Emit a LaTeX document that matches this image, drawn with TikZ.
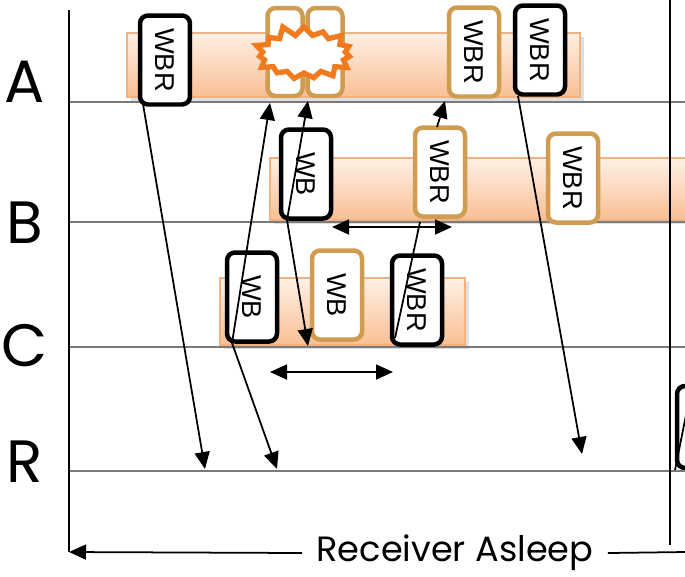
\documentclass[tikz,border=0pt]{standalone}
\usepackage{fontspec}
\setmainfont{Liberation Sans}
\newfontfamily\lanefont{Poppins}
\usepackage{tikz}
\usetikzlibrary{positioning, arrows.meta, shapes.symbols, shadows}

\definecolor{barhi}{HTML}{FEF0E5}
\definecolor{barlo}{HTML}{F9BF94}
\definecolor{baredge}{HTML}{EDB384}
\definecolor{boxtan}{HTML}{CF9C52}
\definecolor{burst}{HTML}{F07A1E}
\definecolor{lanegray}{HTML}{7A7A7A}

\begin{document}
\begin{tikzpicture}[
    x=0.02cm, y=-0.02cm,
    every node/.style={font=\small,align=center},
    arrow/.style={-{Triangle[length=0.34cm, width=0.3cm]}, line width=1pt},
    both/.style={{Triangle[length=0.34cm, width=0.3cm]}-{Triangle[length=0.34cm, width=0.3cm]}, line width=1pt},
    lane/.style={lanegray, line width=1.3pt},
    bar/.style={draw=baredge, line width=0.6pt, top color=barhi, bottom color=barlo,
        drop shadow={shadow xshift=2pt, shadow yshift=-2pt, opacity=0.25}},
    pkt/.style={rectangle, rounded corners=0.16cm, fill=white, line width=0.09cm, rotate=-90,
        inner sep=0pt, minimum width=1.78cm, minimum height=1.0cm,
        font=\fontsize{15.5}{16}\selectfont},
    sent/.style={pkt, draw=black},
    heard/.style={pkt, draw=boxtan},
    clashmark/.style={starburst, draw=burst, fill=white, line width=3pt, minimum width=2.1cm,
        minimum height=1.2cm, starburst points=15, starburst point height=0.22cm, random starburst=11},
    lbl/.style={font=\lanefont\fontsize{34}{34}\selectfont}
]
    \clip (0,0) rectangle (685,576);

    % lanes
    \foreach \name/\y/\ly in {A/102/82, B/222/223, C/347/346, R/471/462} {
        \draw[lane] (69,\y) -- (685,\y);
        \node[lbl] (lab\name) at (25,\ly) {\name};
    }
    \draw[line width=1.2pt] (69,10) -- (69,552);

    % busy periods
    \draw[bar] (127,33) rectangle (580,97);
    \draw[bar] (270,158) rectangle (700,220);
    \draw[bar] (220,278) rectangle (465,345);

    \draw[line width=1.2pt] (670,0) -- (670,545);

    % row A
    \node[sent] (wbrA1) at (165,60) {WBR};
    \node[heard, minimum width=1.76cm, minimum height=0.7cm] (pairL) at (285,52) {};
    \node[heard, minimum width=1.76cm, minimum height=0.7cm] (pairR) at (325,52) {};
    \node[clashmark] (clash) at (304,54) {};
    \node[heard] (wbrA2) at (474,52) {WBR};
    \node[sent] (wbrA3) at (540,50) {WBR};

    % row B
    \node[sent] (wbB1) at (306,174) {WB};
    \node[heard] (wbrB1) at (440,172) {WBR};
    \node[heard] (wbrB2) at (573,178) {WBR};

    % row C
    \node[sent] (wbC1) at (252,297) {WB};
    \node[heard] (wbC2) at (337,295) {WB};
    \node[sent] (wbrC1) at (417,300) {WBR};

    % next one, cut off at the edge
    \node[sent, minimum width=1.64cm] (wbrR1) at (702,427) {};

    % ends of the messages
    \coordinate (s1) at (143,104);
    \coordinate (t1) at (205,469);
    \coordinate (s2) at (232,343);
    \coordinate (t2) at (270,103);
    \coordinate (t3) at (277,469);
    \coordinate (s4) at (287,220);
    \coordinate (t4) at (308,101);
    \coordinate (t5) at (308,346);
    \coordinate (s6) at (395,338);
    \coordinate (t6) at (420,222);
    \coordinate (s7) at (437,127);
    \coordinate (t7) at (445,101);
    \coordinate (s8) at (518,96);
    \coordinate (t8) at (582,454);
    \coordinate (s9) at (675,470);
    \coordinate (t9) at (690,395);

    \draw[arrow] (s1) -- (t1);
    \draw[arrow] (s2) -- (t2);
    \draw[arrow] (s2) -- (t3);
    \draw[arrow] (s4) -- (t4);
    \draw[arrow] (s4) -- (t5);
    \draw[line width=1pt] (s6) -- (t6);
    \draw[arrow] (s7) -- (t7);
    \draw[arrow] (s8) -- (t8);
    \draw[line width=1pt] (s9) -- (t9);

    % waiting spans
    \coordinate (waitB1) at (332,227);
    \coordinate (waitB2) at (452,227);
    \coordinate (waitC1) at (270,372);
    \coordinate (waitC2) at (393,372);
    \draw[both] (waitB1) -- (waitB2);
    \draw[both] (waitC1) -- (waitC2);

    % receiver
    \node[font=\lanefont\fontsize{20}{20}\selectfont, inner sep=8pt] (asleep) at (455,553) {Receiver Asleep};
    \coordinate (asleepL) at (69,552);
    \coordinate (asleepR) at (685,552);
    \draw[arrow] (asleep.west) -- (asleepL);
    \draw[line width=1pt] (asleep.east) -- (asleepR);
\end{tikzpicture}
\end{document}
